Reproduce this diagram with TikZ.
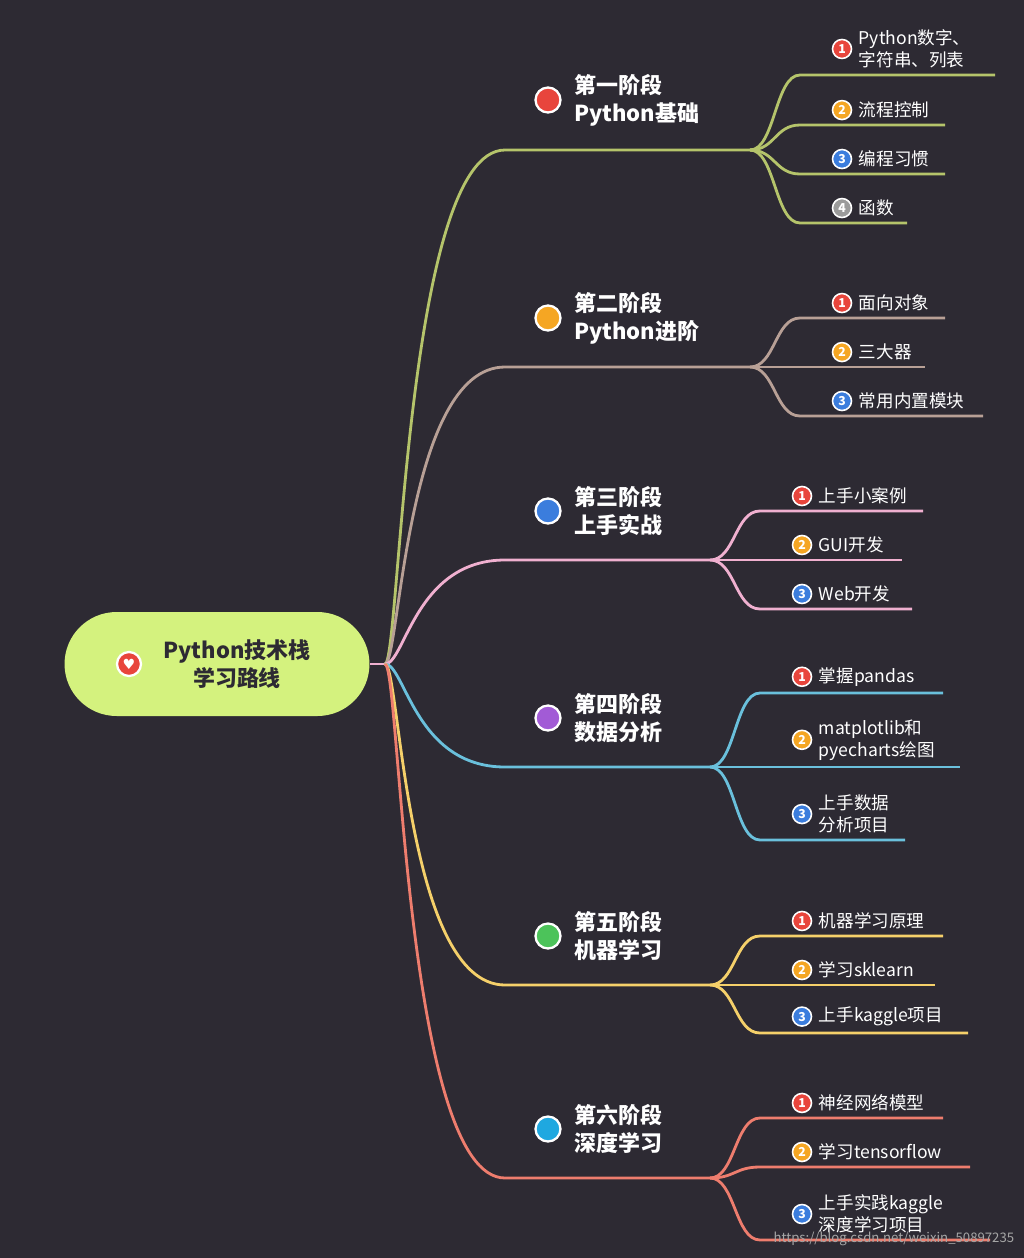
\documentclass[tikz,border=0pt]{standalone}
\usepackage{fontspec}
\setmainfont{Noto Sans CJK SC}
\newfontfamily\symfont{DejaVu Sans}
\usetikzlibrary{calc,positioning}
\definecolor{bgdark}{HTML}{2D2A33}
\definecolor{rootgreen}{HTML}{D4F27E}
\definecolor{cOne}{HTML}{B5C46B}
\definecolor{cTwo}{HTML}{B8A096}
\definecolor{cThree}{HTML}{F0B0D0}
\definecolor{cFour}{HTML}{6AC0DC}
\definecolor{cFive}{HTML}{F5D06A}
\definecolor{cSix}{HTML}{EE7D6E}
\definecolor{nRed}{HTML}{E8453C}
\definecolor{nOrange}{HTML}{F5A623}
\definecolor{nBlue}{HTML}{3B7DDD}
\definecolor{nGrey}{HTML}{9B9B9B}
\definecolor{nPurple}{HTML}{A25BD6}
\definecolor{nGreen}{HTML}{4CC35A}
\definecolor{nCyan}{HTML}{1FA8E0}
\tikzset{
  branch/.style={line width=1.6pt},
  stagedot/.style={circle,draw=white,line width=1.3pt,minimum size=0.5cm,inner sep=0pt},
  numdot/.style={circle,draw=white,line width=0.9pt,minimum size=0.38cm,inner sep=0pt,
    text=white,font=\bfseries\fontsize{7}{7}\selectfont},
  stagetext/.style={anchor=west,align=left,text=white,font=\bfseries\fontsize{12.5}{16}\selectfont},
  leaftext/.style={anchor=south west,align=left,text=white,inner sep=2pt,
    font=\fontsize{10}{12.5}\selectfont}
}
% leaf: name, colour, fork, start x, line y, end x, number, number colour, text
\newcommand{\tikzLeaf}[9]{
  \coordinate (#1s) at (#4,#5);
  \coordinate (#1e) at (#6,#5);
  \draw[branch,#2] (#3) .. controls +(25,0) and +(-25,0) .. (#1s) -- (#1e);
  \node[leaftext] (#1t) at ($(#1s)+(55,-3)$) {#9};
  \node[numdot,fill=#8] (#1n) at ($(#1t.west)+(-13,0)$) {#7};
}

\begin{document}
\begin{tikzpicture}[x=0.02cm,y=-0.02cm]
  \fill[bgdark] (0,0) rectangle (1024,1258);
  \useasboundingbox (0,0) rectangle (1024,1258);

  % root
  \node[fill=rootgreen,rounded corners=1.04cm,minimum width=6.1cm,minimum height=2.08cm] (root) at (217,664) {};
  \node[align=center,text=bgdark,font=\bfseries\fontsize{12.5}{16}\selectfont] (roott) at (237,664) {Python技术栈\\学习路线};
  \node[stagedot,fill=nRed,minimum size=0.48cm,text=white,font=\symfont\fontsize{8}{8}\selectfont] (heart) at (129,664) {♥};
  \coordinate (hub) at (385,664);
  \draw[branch,cThree] (root.east) -- (hub);

  % stages
  \coordinate (b1) at (505,150); \coordinate (f1) at (750,150);
  \coordinate (b2) at (505,367); \coordinate (f2) at (750,367);
  \coordinate (b3) at (505,560); \coordinate (f3) at (710,560);
  \coordinate (b4) at (505,767); \coordinate (f4) at (710,767);
  \coordinate (b5) at (505,985); \coordinate (f5) at (710,985);
  \coordinate (b6) at (505,1178); \coordinate (f6) at (710,1178);
  \draw[branch,cOne] (hub) .. controls +(15,0) and +(-100,0) .. (b1) -- (f1);
  \draw[branch,cTwo] (hub) .. controls +(15,0) and +(-100,0) .. (b2) -- (f2);
  \draw[branch,cThree] (hub) .. controls +(20,0) and +(-90,0) .. (b3) -- (f3);
  \draw[branch,cFour] (hub) .. controls +(20,0) and +(-90,0) .. (b4) -- (f4);
  \draw[branch,cFive] (hub) .. controls +(15,0) and +(-100,0) .. (b5) -- (f5);
  \draw[branch,cSix] (hub) .. controls +(15,0) and +(-100,0) .. (b6) -- (f6);

  \node[stagedot,fill=nRed] (s1) at (548,100) {};
  \node[stagetext] (s1t) at (568,100) {第一阶段\\Python基础};
  \node[stagedot,fill=nOrange] (s2) at (548,318) {};
  \node[stagetext] (s2t) at (568,318) {第二阶段\\Python进阶};
  \node[stagedot,fill=nBlue] (s3) at (548,511) {};
  \node[stagetext] (s3t) at (568,511) {第三阶段\\上手实战};
  \node[stagedot,fill=nPurple] (s4) at (548,718) {};
  \node[stagetext] (s4t) at (568,718) {第四阶段\\数据分析};
  \node[stagedot,fill=nGreen] (s5) at (548,936) {};
  \node[stagetext] (s5t) at (568,936) {第五阶段\\机器学习};
  \node[stagedot,fill=nCyan] (s6) at (548,1129) {};
  \node[stagetext] (s6t) at (568,1129) {第六阶段\\深度学习};

  % leaves
  \tikzLeaf{la}{cOne}{f1}{800}{75}{995}{1}{nRed}{Python数字、\\字符串、列表}
  \tikzLeaf{lb}{cOne}{f1}{800}{125}{945}{2}{nOrange}{流程控制}
  \tikzLeaf{lc}{cOne}{f1}{800}{174}{945}{3}{nBlue}{编程习惯}
  \tikzLeaf{ld}{cOne}{f1}{800}{223}{907}{4}{nGrey}{函数}

  \tikzLeaf{ma}{cTwo}{f2}{800}{318}{945}{1}{nRed}{面向对象}
  \tikzLeaf{mb}{cTwo}{f2}{800}{367}{925}{2}{nOrange}{三大器}
  \tikzLeaf{mc}{cTwo}{f2}{800}{416}{983}{3}{nBlue}{常用内置模块}

  \tikzLeaf{na}{cThree}{f3}{760}{511}{923}{1}{nRed}{上手小案例}
  \tikzLeaf{nb}{cThree}{f3}{760}{560}{902}{2}{nOrange}{GUI开发}
  \tikzLeaf{nc}{cThree}{f3}{760}{609}{912}{3}{nBlue}{Web开发}

  \tikzLeaf{oa}{cFour}{f4}{760}{693}{943}{1}{nRed}{掌握pandas}
  \tikzLeaf{ob}{cFour}{f4}{760}{767}{960}{2}{nOrange}{matplotlib和\\pyecharts绘图}
  \tikzLeaf{oc}{cFour}{f4}{760}{840}{905}{3}{nBlue}{上手数据\\分析项目}

  \tikzLeaf{pa}{cFive}{f5}{760}{936}{943}{1}{nRed}{机器学习原理}
  \tikzLeaf{pb}{cFive}{f5}{760}{985}{935}{2}{nOrange}{学习sklearn}
  \tikzLeaf{pc}{cFive}{f5}{760}{1033}{968}{3}{nBlue}{上手kaggle项目}

  \tikzLeaf{qa}{cSix}{f6}{760}{1118}{943}{1}{nRed}{神经网络模型}
  \tikzLeaf{qb}{cSix}{f6}{760}{1167}{970}{2}{nOrange}{学习tensorflow}
  \tikzLeaf{qc}{cSix}{f6}{760}{1240}{990}{3}{nBlue}{上手实践kaggle\\深度学习项目}

  \node[anchor=south east,text=gray!70,font=\fontsize{7.5}{9}\selectfont,inner sep=2pt] (mark) at (1018,1250) {https://blog.csdn.net/weixin\_50897235};
\end{tikzpicture}
\end{document}
